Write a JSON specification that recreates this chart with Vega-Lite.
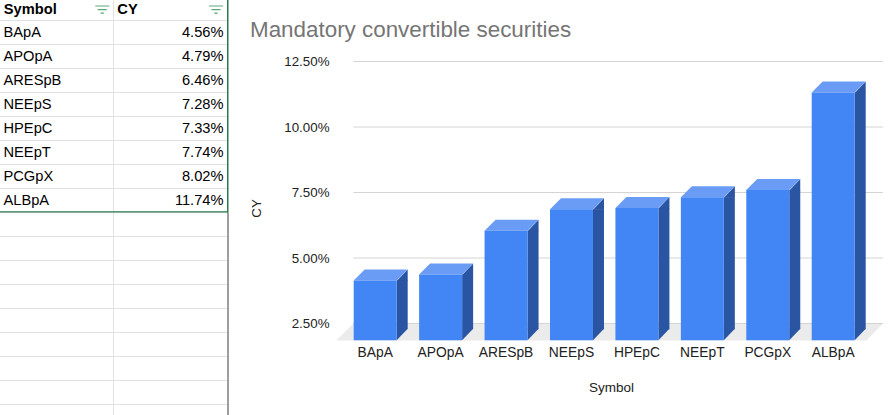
{
"$schema":"https://vega.github.io/schema/vega-lite/v6.json",
"width":895,"height":415,"padding":0,"autosize":{"type":"none"},"background":"white",
"config":{"view":{"stroke":null},"text":{"font":"Liberation Sans"},"axis":{"labelFont":"Liberation Sans","titleFont":"Liberation Sans"}},
"title":{"text":"Mandatory convertible securities","anchor":"start","frame":"group","orient":"top","offset":0,"dx":250,"dy":60,"baseline":"alphabetic","font":"Liberation Sans","fontSize":22.4,"fontWeight":"normal","color":"#757575"},
"datasets":{
"rows":[
{"symbol":"BApA","cy":0.0456,"row":0.54},
{"symbol":"APOpA","cy":0.0479,"row":1.54},
{"symbol":"ARESpB","cy":0.0646,"row":2.54},
{"symbol":"NEEpS","cy":0.0728,"row":3.54},
{"symbol":"HPEpC","cy":0.0733,"row":4.54},
{"symbol":"NEEpT","cy":0.0774,"row":5.54},
{"symbol":"PCGpX","cy":0.0802,"row":6.54},
{"symbol":"ALBpA","cy":0.1174,"row":7.54}],
"lines":[{"line":0},{"line":1},{"line":2},{"line":3},{"line":4},{"line":5},{"line":6},{"line":7},{"line":8},{"line":9},{"line":10},{"line":11},{"line":12},{"line":13},{"line":14},{"line":15},{"line":16}],
"ticks":[{"tick":0.025},{"tick":0.05},{"tick":0.075},{"tick":0.1},{"tick":0.125}],
"headers":[{"label":"Symbol","col":0,"row":-0.43},{"label":"CY","col":1,"row":-0.43}],
"filters":[{"col":1,"row":-0.43},{"col":2,"row":-0.43}]
},
"resolve":{"scale":{"x":"independent","y":"independent"},"axis":{"x":"independent","y":"independent"}},
"layer":[
{"data":{"name":"lines"},"mark":{"type":"rule","color":"#e2e2e2","strokeWidth":1},
 "encoding":{"x":{"datum":0,"type":"quantitative","axis":null,"scale":{"domain":[0,2],"range":[0,227.5]}},"x2":{"datum":2},
 "y":{"field":"line","type":"quantitative","axis":null,"scale":{"domain":[0,16],"range":[20.5,404.5],"zero":false,"nice":false}}}},
{"data":{"values":[{"col":1,"from":-0.85,"to":16.45}]},"mark":{"type":"rule","color":"#e2e2e2","strokeWidth":1},
 "encoding":{"x":{"field":"col","type":"quantitative","axis":null,"scale":{"domain":[0,2],"range":[0,227]}},
 "y":{"field":"from","type":"quantitative","axis":null,"scale":{"domain":[0,16],"range":[20.5,404.5],"zero":false,"nice":false}},"y2":{"field":"to"}}},
{"data":{"values":[{"col":2,"from":8,"to":16.45}]},"mark":{"type":"rule","color":"#9e9e9e","strokeWidth":2},
 "encoding":{"x":{"field":"col","type":"quantitative","axis":null,"scale":{"domain":[0,2],"range":[0,228]}},
 "y":{"field":"from","type":"quantitative","axis":null,"scale":{"domain":[0,16],"range":[20.5,404.5],"zero":false,"nice":false}},"y2":{"field":"to"}}},
{"data":{"values":[{"col":2,"from":-0.85,"to":8}]},"mark":{"type":"rule","color":"#2b7a4b","strokeWidth":1.5},
 "encoding":{"x":{"field":"col","type":"quantitative","axis":null,"scale":{"domain":[0,2],"range":[0,227.75]}},
 "y":{"field":"from","type":"quantitative","axis":null,"scale":{"domain":[0,16],"range":[20.5,404.5],"zero":false,"nice":false}},"y2":{"field":"to"}}},
{"data":{"values":[{"from":0,"to":2,"row":8}]},"mark":{"type":"rule","color":"#2b7a4b","strokeWidth":1.2},
 "encoding":{"x":{"field":"from","type":"quantitative","axis":null,"scale":{"domain":[0,2],"range":[0,228]}},"x2":{"field":"to"},
 "y":{"field":"row","type":"quantitative","axis":null,"scale":{"domain":[0,16],"range":[19.8,403.8],"zero":false,"nice":false}}}},
{"data":{"name":"headers"},"mark":{"type":"text","align":"left","baseline":"middle","dx":3.8,"fontSize":14.67,"fontWeight":"bold","color":"#000000"},
 "encoding":{"x":{"field":"col","type":"quantitative","axis":null,"scale":{"domain":[0,2],"range":[0,227]}},
 "y":{"field":"row","type":"quantitative","axis":null,"scale":{"domain":[0,16],"range":[20.5,404.5],"zero":false,"nice":false}},"text":{"field":"label"}}},
{"data":{"name":"filters"},"mark":{"type":"point","filled":true,"size":4,"opacity":1,"strokeWidth":0,"color":"#5aa878","shape":"M-18.5,-4.8L-4.5,-4.8L-4.5,-3.6L-18.5,-3.6ZM-16,-1.2L-7,-1.2L-7,0L-16,0ZM-13.2,2.4L-9.8,2.4L-9.8,3.6L-13.2,3.6Z"},
 "encoding":{"x":{"field":"col","type":"quantitative","axis":null,"scale":{"domain":[0,2],"range":[0,227.5]}},
 "y":{"field":"row","type":"quantitative","axis":null,"scale":{"domain":[0,16],"range":[20.5,404.5],"zero":false,"nice":false}}}},
{"data":{"name":"rows"},"mark":{"type":"text","align":"left","baseline":"middle","dx":3.5,"fontSize":14.67,"color":"#000000"},
 "encoding":{"x":{"datum":0,"type":"quantitative","axis":null,"scale":{"domain":[0,2],"range":[0,227.5]}},
 "y":{"field":"row","type":"quantitative","axis":null,"scale":{"domain":[0,16],"range":[20.5,404.5],"zero":false,"nice":false}},"text":{"field":"symbol"}}},
{"data":{"name":"rows"},"mark":{"type":"text","align":"right","baseline":"middle","dx":-4,"fontSize":14.67,"color":"#000000"},
 "encoding":{"x":{"datum":2,"type":"quantitative","axis":null,"scale":{"domain":[0,2],"range":[0,227.5]}},
 "y":{"field":"row","type":"quantitative","axis":null,"scale":{"domain":[0,16],"range":[20.5,404.5],"zero":false,"nice":false}},"text":{"field":"cy","type":"quantitative","format":".2%"}}},

{"data":{"values":[{"at":0,"tick":0.025}]},"mark":{"type":"point","filled":true,"size":4,"opacity":1,"strokeWidth":0,"color":"#ebebeb","shape":"M0,0L530,0L513,17L-17,17Z"},
 "encoding":{"x":{"field":"at","type":"quantitative","axis":null,"scale":{"domain":[0,1],"range":[353.3,883]}},
 "y":{"field":"tick","type":"quantitative","axis":null,"scale":{"domain":[0.025,0.125],"range":[323.5,61.5],"zero":false,"nice":false}}}},
{"data":{"name":"ticks"},"mark":{"type":"rule","color":"#d4d4d4","strokeWidth":1},
 "encoding":{"x":{"datum":0,"type":"quantitative","axis":null,"scale":{"domain":[0,1],"range":[353.3,883]}},"x2":{"datum":1},
 "y":{"field":"tick","type":"quantitative","scale":{"domain":[0.025,0.125],"range":[323.5,61.5],"zero":false,"nice":false},
 "axis":{"orient":"left","offset":-333,"values":[0.025,0.05,0.075,0.1,0.125],"format":".2%","domain":false,"ticks":false,"grid":false,"labelPadding":4,"labelFontSize":13.33,"labelColor":"#222222","title":"CY","titleFontSize":13.33,"titleFontWeight":"normal","titleColor":"#222222","titleX":-77,"titleY":208,"titleAlign":"center","titleBaseline":"middle"}}}},

{"data":{"name":"rows"},"mark":{"type":"bar","width":11,"xOffset":27,"yOffset":11,"y2Offset":-11,"color":"#2a55a2"},
 "encoding":{"x":{"field":"symbol","type":"nominal","sort":null,"scale":{"type":"band","range":[353.7,854.7],"paddingInner":0.343,"paddingOuter":0},
 "axis":{"orient":"bottom","offset":-75,"domain":false,"ticks":false,"labelAngle":0,"labelPadding":5.5,"labelFontSize":13.8,"labelColor":"#222222","title":"Symbol","titleFontSize":13.5,"titleFontWeight":"normal","titleColor":"#222222","titleX":611,"titleY":47,"titleAlign":"center","titleBaseline":"middle"}},
 "y":{"field":"cy","type":"quantitative","axis":null,"scale":{"domain":[0.025,0.125],"range":[323.5,61.5],"zero":false,"nice":false}},"y2":{"datum":0.01863}}},
{"data":{"name":"rows"},"mark":{"type":"point","filled":true,"size":4,"opacity":1,"strokeWidth":0,"color":"#2a55a2","shape":"M21.5,11.5L32.5,11.5L32.5,0Z"},
 "encoding":{"x":{"field":"symbol","type":"nominal","sort":null,"axis":null,"scale":{"type":"band","range":[353.7,854.7],"paddingInner":0.343,"paddingOuter":0}},
 "y":{"field":"cy","type":"quantitative","axis":null,"scale":{"domain":[0.025,0.125],"range":[323.5,61.5],"zero":false,"nice":false}}}},
{"data":{"name":"rows"},"mark":{"type":"point","filled":true,"size":4,"opacity":1,"strokeWidth":0,"color":"#2a55a2","shape":"M21.5,-11.5L32.5,-11.5L21.5,0Z"},
 "encoding":{"x":{"field":"symbol","type":"nominal","sort":null,"axis":null,"scale":{"type":"band","range":[353.7,854.7],"paddingInner":0.343,"paddingOuter":0}},
 "y":{"datum":0.01863,"type":"quantitative","axis":null,"scale":{"domain":[0.025,0.125],"range":[323.5,61.5],"zero":false,"nice":false}}}},
{"data":{"name":"rows"},"mark":{"type":"point","filled":true,"size":4,"opacity":1,"strokeWidth":0,"color":"#6a9cf6","shape":"M-21.5,11L21.5,11L32.5,0L-10.5,0Z"},
 "encoding":{"x":{"field":"symbol","type":"nominal","sort":null,"axis":null,"scale":{"type":"band","range":[353.7,854.7],"paddingInner":0.343,"paddingOuter":0}},
 "y":{"field":"cy","type":"quantitative","axis":null,"scale":{"domain":[0.025,0.125],"range":[323.5,61.5],"zero":false,"nice":false}}}},
{"data":{"name":"rows"},"mark":{"type":"bar","yOffset":11,"color":"#4285f4"},
 "encoding":{"x":{"field":"symbol","type":"nominal","sort":null,"axis":null,"scale":{"type":"band","range":[353.7,854.7],"paddingInner":0.343,"paddingOuter":0}},
 "y":{"field":"cy","type":"quantitative","axis":null,"scale":{"domain":[0.025,0.125],"range":[323.5,61.5],"zero":false,"nice":false}},"y2":{"datum":0.01863}}}
]
}
